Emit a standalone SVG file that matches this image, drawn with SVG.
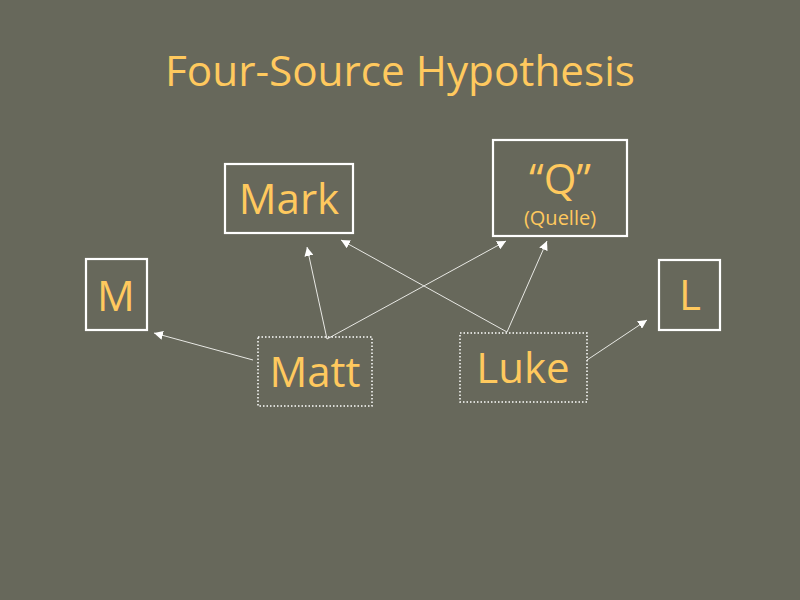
<svg xmlns="http://www.w3.org/2000/svg" width="800" height="600" viewBox="0 0 800 600">
<defs>
<style>
.box{fill:none;stroke:#ffffff;stroke-width:2.2}
.dbox{fill:none;stroke:#ffffff;stroke-width:1.5;stroke-dasharray:1.5 2}
.lbl{font-family:"Open Sans","Noto Sans","Liberation Sans",sans-serif;fill:#ffc95e;text-anchor:middle}
.big{font-size:42px}
.small{font-size:20px}
.con{stroke:#e8e8e4;stroke-width:1;fill:none;marker-end:url(#ah)}
</style>
<marker id="ah" viewBox="0 0 10 10" refX="10" refY="5" markerWidth="9" markerHeight="9" markerUnits="userSpaceOnUse" orient="auto">
<path d="M0,0 L10,5 L0,10 z" fill="#ffffff"/>
</marker>
</defs>
<rect x="0" y="0" width="800" height="600" fill="#67685b"/>
<text class="lbl big" x="400" y="86" textLength="470" lengthAdjust="spacingAndGlyphs">Four-Source Hypothesis</text>
<g id="connectors">
<line class="con" x1="253" y1="360" x2="154" y2="333"/>
<line class="con" x1="327" y1="339" x2="307" y2="247"/>
<line class="con" x1="327" y1="339" x2="506" y2="241"/>
<line class="con" x1="507" y1="332" x2="341" y2="240"/>
<line class="con" x1="507" y1="332" x2="547" y2="241"/>
<line class="con" x1="587" y1="360" x2="647" y2="320"/>
</g>
<g id="mark">
<rect class="box" x="225" y="164" width="128" height="69"/>
<text class="lbl big" x="289" y="214">Mark</text>
</g>
<g id="q">
<rect class="box" x="493" y="140" width="134" height="96"/>
<text class="lbl big" x="560" y="194">“Q”</text>
<text class="lbl small" x="560" y="225">(Quelle)</text>
</g>
<g id="m">
<rect class="box" x="86" y="259" width="61" height="71"/>
<text class="lbl big" x="116" y="311">M</text>
</g>
<g id="l">
<rect class="box" x="659" y="260" width="61" height="70"/>
<text class="lbl big" x="690" y="310">L</text>
</g>
<g id="matt">
<rect class="dbox" x="258" y="337" width="114" height="69"/>
<text class="lbl big" x="315" y="387">Matt</text>
</g>
<g id="luke">
<rect class="dbox" x="460" y="333" width="127" height="69"/>
<text class="lbl big" x="523" y="383">Luke</text>
</g>
</svg>
